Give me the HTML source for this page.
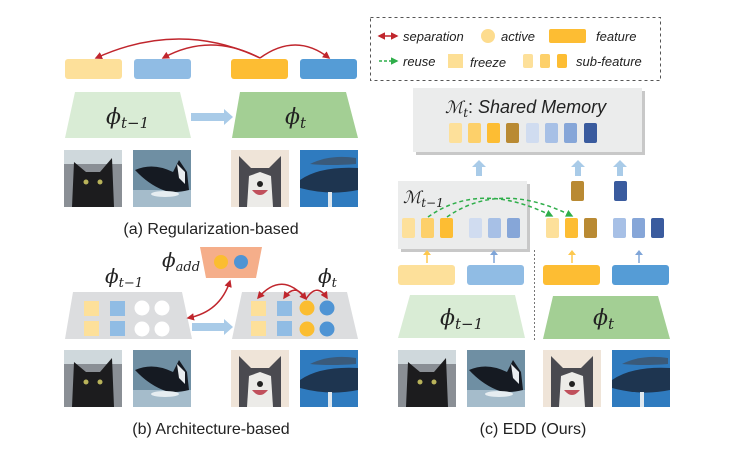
<!DOCTYPE html>
<html><head><meta charset="utf-8"><style>
html,body{margin:0;padding:0;background:#fff;}
svg{display:block;font-family:"Liberation Sans",sans-serif;}
.m{font-family:"DejaVu Serif","Liberation Serif",serif;font-style:italic;fill:#222;}
.i{font-style:italic;fill:#222;font-size:13px;}
.cap{font-size:16px;fill:#222;}
</style></head><body>
<svg width="734" height="464" viewBox="0 0 734 464" xmlns="http://www.w3.org/2000/svg">
<defs>
<marker id="ar" viewBox="0 0 10 10" refX="8" refY="5" markerWidth="5" markerHeight="5" orient="auto-start-reverse"><path d="M0,0L10,5L0,10z" fill="#c0262d"/></marker>
<marker id="ag" viewBox="0 0 10 10" refX="8" refY="5" markerWidth="5" markerHeight="5" orient="auto"><path d="M0,0L10,5L0,10z" fill="#2fae4a"/></marker>
<g id="cat"><rect width="58" height="57" fill="#8a8f95"/><rect width="58" height="14" fill="#cfd8dc"/><path d="M8,57 L10,12 L22,22 L36,22 L48,8 L50,57z" fill="#1c1c1e"/><circle cx="22" cy="32" r="2.5" fill="#b9b35a"/><circle cx="36" cy="32" r="2.5" fill="#b9b35a"/></g>
<g id="orca"><rect width="58" height="57" fill="#6f8fa3"/><rect y="40" width="58" height="17" fill="#a5bccb"/><path d="M2,20 Q20,12 40,22 L46,10 L54,22 L56,40 Q40,44 30,40 Q15,34 2,20z" fill="#151a22"/><path d="M44,14 L52,22 L52,34 L46,28z" fill="#e8ecef"/><ellipse cx="32" cy="44" rx="14" ry="3" fill="#e6edf1"/></g>
<g id="dog"><rect width="58" height="57" fill="#efe4d8"/><path d="M8,57 L8,6 L20,18 L38,18 L50,6 L50,57z" fill="#4a4a50"/><path d="M16,57 L18,26 L29,22 L40,26 L42,57z" fill="#ecebe8"/><circle cx="29" cy="34" r="3" fill="#222"/><path d="M21,40 Q29,50 37,40z" fill="#c0505c"/></g>
<g id="whale"><rect width="58" height="57" fill="#2f7bbf"/><path d="M0,30 Q20,16 58,18 L58,40 Q30,46 0,38z" fill="#1e3550"/><path d="M10,14 Q30,4 56,8 L56,14 Q30,16 10,14z" fill="#3a5a7a"/><rect x="28" y="42" width="4" height="15" fill="#dfe8ef"/></g>
</defs>

<!-- (a) -->
<path d="M260,58 Q180,20 96,58" fill="none" stroke="#c0262d" stroke-width="1.5" marker-end="url(#ar)"/>
<path d="M260,58 Q210,32 163,58" fill="none" stroke="#c0262d" stroke-width="1.5" marker-end="url(#ar)"/>
<path d="M260,58 Q296,32 329,58" fill="none" stroke="#c0262d" stroke-width="1.5" marker-end="url(#ar)"/>
<rect x="65" y="59" width="57" height="20" rx="3" fill="#fde09a"/>
<rect x="134" y="59" width="57" height="20" rx="3" fill="#90bce4"/>
<rect x="231" y="59" width="57" height="20" rx="3" fill="#fdbd33"/>
<rect x="300" y="59" width="57" height="20" rx="3" fill="#559cd6"/>
<polygon points="75,92 180,92 191,138 65,138" fill="#d9ecd5"/>
<polygon points="240,92 346,92 358,138 232,138" fill="#a3cf94"/>
<rect x="191" y="113" width="33" height="8" fill="#a9cbe8"/><polygon points="224,109 233,117 224,125" fill="#a9cbe8"/>
<text x="106" y="124" class="m" font-size="22">ϕ<tspan font-size="15" dy="4">t−1</tspan></text>
<text x="285" y="124" class="m" font-size="22">ϕ<tspan font-size="15" dy="4">t</tspan></text>
<use href="#cat" x="64" y="150"/><use href="#orca" x="133" y="150"/><use href="#dog" x="231" y="150"/><use href="#whale" x="300" y="150"/>
<text x="211" y="234" class="cap" text-anchor="middle">(a) Regularization-based</text>

<!-- (b) -->
<polygon points="200,247 262,247 256,278 206,278" fill="#f5ae8a"/>
<circle cx="221" cy="262" r="7" fill="#fbbd30"/><circle cx="241" cy="262" r="7" fill="#4f94d4"/>
<text x="162" y="267" class="m" font-size="20">ϕ<tspan font-size="13" dy="4">add</tspan></text>
<text x="105" y="283" class="m" font-size="20">ϕ<tspan font-size="13" dy="4">t−1</tspan></text>
<text x="318" y="283" class="m" font-size="20">ϕ<tspan font-size="13" dy="4">t</tspan></text>
<polygon points="73,292 182,292 192,339 65,339" fill="#dcdddf"/>
<polygon points="242,292 347,292 358,339 232,339" fill="#dcdddf"/>
<rect x="84" y="301" width="15" height="15" fill="#fde09a"/><rect x="110" y="301" width="15" height="15" fill="#90bce4"/>
<rect x="84" y="321" width="15" height="15" fill="#fde09a"/><rect x="110" y="321" width="15" height="15" fill="#90bce4"/>
<circle cx="142" cy="308" r="7.5" fill="#fff"/><circle cx="162" cy="308" r="7.5" fill="#fff"/>
<circle cx="142" cy="329" r="7.5" fill="#fff"/><circle cx="162" cy="329" r="7.5" fill="#fff"/>
<rect x="251" y="301" width="15" height="15" fill="#fde09a"/><rect x="277" y="301" width="15" height="15" fill="#90bce4"/>
<rect x="251" y="321" width="15" height="15" fill="#fde09a"/><rect x="277" y="321" width="15" height="15" fill="#90bce4"/>
<circle cx="307" cy="308" r="7.5" fill="#fbbd30"/><circle cx="327" cy="308" r="7.5" fill="#4f94d4"/>
<circle cx="307" cy="329" r="7.5" fill="#fbbd30"/><circle cx="327" cy="329" r="7.5" fill="#4f94d4"/>
<rect x="192" y="323" width="32" height="8" fill="#a9cbe8"/><polygon points="224,319 233,327 224,335" fill="#a9cbe8"/>
<path d="M230,281 Q220,312 188,318" fill="none" stroke="#c0262d" stroke-width="1.5" marker-start="url(#ar)" marker-end="url(#ar)"/>
<path d="M306,299 Q282,270 258,298" fill="none" stroke="#c0262d" stroke-width="1.5" marker-start="url(#ar)" marker-end="url(#ar)"/>
<path d="M306,299 Q295,282 284,298" fill="none" stroke="#c0262d" stroke-width="1.5" marker-end="url(#ar)"/>
<path d="M306,299 Q317,282 327,298" fill="none" stroke="#c0262d" stroke-width="1.5" marker-end="url(#ar)"/>
<use href="#cat" x="64" y="350"/><use href="#orca" x="133" y="350"/><use href="#dog" x="231" y="350"/><use href="#whale" x="300" y="350"/>
<text x="211" y="434" class="cap" text-anchor="middle">(b) Architecture-based</text>

<!-- (c) legend -->
<rect x="370.5" y="17.5" width="290" height="63" fill="none" stroke="#555" stroke-dasharray="3,3"/>
<line x1="379" y1="36" x2="397" y2="36" stroke="#c0262d" stroke-width="1.5" marker-start="url(#ar)" marker-end="url(#ar)"/>
<text x="403" y="41" class="i">separation</text>
<circle cx="488" cy="36" r="7" fill="#fddc8e"/>
<text x="501" y="41" class="i">active</text>
<rect x="549" y="29" width="37" height="14" rx="2" fill="#fdbd33"/>
<text x="596" y="41" class="i">feature</text>
<line x1="379" y1="61" x2="397" y2="61" stroke="#2fae4a" stroke-width="1.5" stroke-dasharray="3,2" marker-end="url(#ag)"/>
<text x="403" y="66" class="i">reuse</text>
<rect x="448" y="54" width="15" height="14" fill="#fddf95"/>
<text x="470" y="67" class="i">freeze</text>
<rect x="523" y="54" width="10" height="14" rx="2" fill="#fde09a"/><rect x="540" y="54" width="10" height="14" rx="2" fill="#fdd06a"/><rect x="557" y="54" width="10" height="14" rx="2" fill="#fdbd33"/>
<text x="576" y="66" class="i">sub-feature</text>

<!-- shared memory -->
<rect x="416" y="91" width="229" height="64" fill="#c8c8c8"/>
<rect x="413" y="88" width="229" height="64" fill="#ebecec"/>
<text x="445" y="113" font-size="18" fill="#222"><tspan class="m" font-size="17">ℳ</tspan><tspan class="m" font-size="12" dy="4">t</tspan><tspan dy="-4">: </tspan><tspan font-style="italic">Shared Memory</tspan></text>
<g>
<rect x="449" y="123" width="13" height="20" rx="2" fill="#fde09a"/>
<rect x="468" y="123" width="13" height="20" rx="2" fill="#fdd06a"/>
<rect x="487" y="123" width="13" height="20" rx="2" fill="#fdbd33"/>
<rect x="506" y="123" width="13" height="20" rx="2" fill="#b98a33"/>
<rect x="526" y="123" width="13" height="20" rx="2" fill="#d0dcf0"/>
<rect x="545" y="123" width="13" height="20" rx="2" fill="#a7c0e6"/>
<rect x="564" y="123" width="13" height="20" rx="2" fill="#86a6d8"/>
<rect x="584" y="123" width="13" height="20" rx="2" fill="#3a5b9e"/>
</g>
<g fill="#a9cbe8">
<polygon points="479,160 486,167 482,167 482,176 476,176 476,167 472,167"/>
<polygon points="578,160 585,167 581,167 581,176 575,176 575,167 571,167"/>
<polygon points="620,160 627,167 623,167 623,176 617,176 617,167 613,167"/>
</g>
<rect x="571" y="181" width="13" height="20" rx="2" fill="#b98a33"/>
<rect x="614" y="181" width="13" height="20" rx="2" fill="#3a5b9e"/>
<!-- M_{t-1} -->
<rect x="401" y="184" width="129" height="68" fill="#c8c8c8"/>
<rect x="398" y="181" width="129" height="68" fill="#ebecec"/>
<text x="403" y="203" class="m" font-size="17">ℳ<tspan font-size="12" dy="4">t−1</tspan></text>
<rect x="402" y="218" width="13" height="20" rx="2" fill="#fde09a"/>
<rect x="421" y="218" width="13" height="20" rx="2" fill="#fdd06a"/>
<rect x="440" y="218" width="13" height="20" rx="2" fill="#fdbd33"/>
<rect x="469" y="218" width="13" height="20" rx="2" fill="#d0dcf0"/>
<rect x="488" y="218" width="13" height="20" rx="2" fill="#a7c0e6"/>
<rect x="507" y="218" width="13" height="20" rx="2" fill="#86a6d8"/>
<rect x="546" y="218" width="13" height="20" rx="2" fill="#fde09a"/>
<rect x="565" y="218" width="13" height="20" rx="2" fill="#fdbd33"/>
<rect x="584" y="218" width="13" height="20" rx="2" fill="#b98a33"/>
<rect x="613" y="218" width="13" height="20" rx="2" fill="#a7c0e6"/>
<rect x="632" y="218" width="13" height="20" rx="2" fill="#86a6d8"/>
<rect x="651" y="218" width="13" height="20" rx="2" fill="#3a5b9e"/>
<path d="M428,217 Q480,180 552,216" fill="none" stroke="#2fae4a" stroke-width="1.5" stroke-dasharray="4,3" marker-end="url(#ag)"/>
<path d="M447,217 Q500,180 572,216" fill="none" stroke="#2fae4a" stroke-width="1.5" stroke-dasharray="4,3" marker-end="url(#ag)"/>
<line x1="534.5" y1="250" x2="534.5" y2="340" stroke="#777" stroke-dasharray="2,2"/>
<g stroke-width="1.5">
<line x1="427" y1="263" x2="427" y2="254" stroke="#fdc84f"/><polygon points="423,255 427,250 431,255" fill="#fdc84f"/>
<line x1="494" y1="263" x2="494" y2="254" stroke="#7fa5d8"/><polygon points="490,255 494,250 498,255" fill="#7fa5d8"/>
<line x1="572" y1="263" x2="572" y2="254" stroke="#fdc84f"/><polygon points="568,255 572,250 576,255" fill="#fdc84f"/>
<line x1="639" y1="263" x2="639" y2="254" stroke="#7fa5d8"/><polygon points="635,255 639,250 643,255" fill="#7fa5d8"/>
</g>
<rect x="398" y="265" width="57" height="20" rx="3" fill="#fde09a"/>
<rect x="467" y="265" width="57" height="20" rx="3" fill="#90bce4"/>
<rect x="543" y="265" width="57" height="20" rx="3" fill="#fdbd33"/>
<rect x="612" y="265" width="57" height="20" rx="3" fill="#559cd6"/>
<polygon points="410,295 515,295 525,338 398,338" fill="#d9ecd5"/>
<polygon points="553,296 658,296 670,339 543,339" fill="#a3cf94"/>
<text x="440" y="325" class="m" font-size="22">ϕ<tspan font-size="15" dy="4">t−1</tspan></text>
<text x="593" y="325" class="m" font-size="22">ϕ<tspan font-size="15" dy="4">t</tspan></text>
<use href="#cat" x="398" y="350"/><use href="#orca" x="467" y="350"/><use href="#dog" x="543" y="350"/><use href="#whale" x="612" y="350"/>
<text x="533" y="434" class="cap" text-anchor="middle">(c) EDD (Ours)</text>
</svg>
</body></html>
